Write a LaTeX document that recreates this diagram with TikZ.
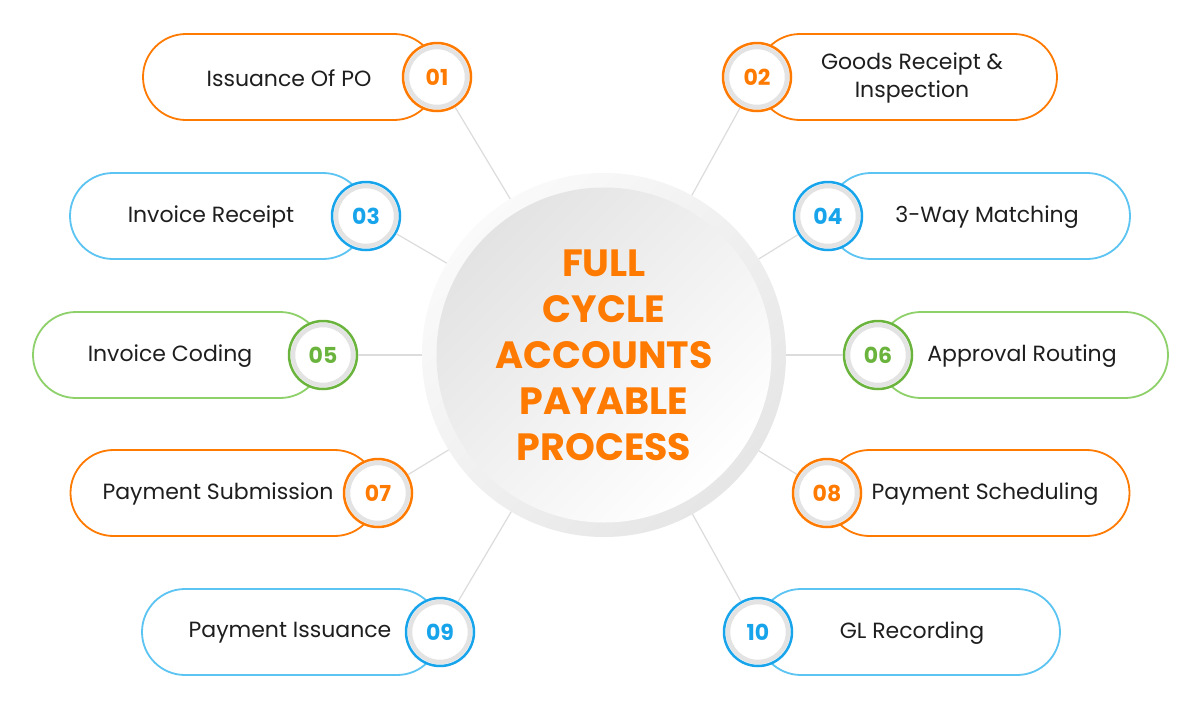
\documentclass[tikz,border=0pt]{standalone}
\usepackage{fontspec}
\setmainfont{Poppins}
\usepackage{xcolor}
\usepackage{tikz}

\definecolor{apOrange}{HTML}{FF7A00}
\definecolor{apBlue}{HTML}{17A4EA}
\definecolor{apBlueLt}{HTML}{5CC4F2}
\definecolor{apGreen}{HTML}{6AB43E}
\definecolor{apGreenLt}{HTML}{8ED16B}
\definecolor{apLine}{HTML}{DCDCDC}
\definecolor{apRing}{HTML}{E3E3E3}
\definecolor{apText}{HTML}{1E1E1E}

\tikzset{
  hub/.style={circle, minimum size=364pt, inner sep=0pt, top color=white!98!black, bottom color=apRing!90!white, shading angle=45},
  hubin/.style={circle, minimum size=335pt, inner sep=0pt, top color=apRing, bottom color=white, shading angle=45,
    text=apOrange, align=center, font=\bfseries\fontsize{38}{46}\selectfont},
  pill/.style={draw=#1, line width=1.8pt, fill=white, rounded corners=43pt, minimum height=86pt, inner sep=0pt},
  badge/.style={circle, draw=#1, line width=2.5pt, fill=white, minimum size=68pt, inner sep=0pt, text=#1,
    font=\bfseries\fontsize{22}{22}\selectfont,
    path picture={\draw[apRing, line width=4.5pt] (path picture bounding box.center) circle[radius=30pt];}},
  steplabel/.style={text=apText, font=\fontsize{22}{28}\selectfont, align=center},
  link/.style={draw=apLine, line width=1.2pt}
}

\begin{document}
\begin{tikzpicture}[x=1pt,y=-1pt]
  \fill[white] (0,0) rectangle (1200,710);
  \useasboundingbox (0,0) rectangle (1200,710);
  % centre
  \node[hub] (hub) at (604,355) {};
  \node[hubin] (title) at (604,355) {FULL\\CYCLE\\ACCOUNTS\\PAYABLE\\PROCESS};
  % pills
  \node[pill=apOrange, minimum width=294pt] (p1) at (290,77) {};
  \node[pill=apOrange, minimum width=300pt] (p2) at (907,77) {};
  \node[pill=apBlueLt, minimum width=296pt] (p3) at (218,216) {};
  \node[pill=apBlueLt, minimum width=302pt] (p4) at (979,216) {};
  \node[pill=apGreenLt, minimum width=290pt] (p5) at (178,355) {};
  \node[pill=apGreenLt, minimum width=290pt] (p6) at (1023,355) {};
  \node[pill=apOrange, minimum width=307pt] (p7) at (224,493) {};
  \node[pill=apOrange, minimum width=303pt] (p8) at (978,493) {};
  \node[pill=apBlueLt, minimum width=298pt] (p9) at (291,632) {};
  \node[pill=apBlueLt, minimum width=302pt] (p10) at (909,632) {};
  % badges
  \node[badge=apOrange] (n1) at (437,77) {01};
  \node[badge=apOrange] (n2) at (757,77) {02};
  \node[badge=apBlue] (n3) at (366,216) {03};
  \node[badge=apBlue] (n4) at (828,216) {04};
  \node[badge=apGreen] (n5) at (323,355) {05};
  \node[badge=apGreen] (n6) at (878,355) {06};
  \node[badge=apOrange] (n7) at (378,493) {07};
  \node[badge=apOrange] (n8) at (827,493) {08};
  \node[badge=apBlue] (n9) at (440,632) {09};
  \node[badge=apBlue] (n10) at (758,632) {10};
  % labels
  \node[steplabel] (l1) at (289,78) {Issuance Of PO};
  \node[steplabel] (l2) at (912,78) {Goods Receipt \&\\Inspection};
  \node[steplabel] (l3) at (211,217) {Invoice Receipt};
  \node[steplabel] (l4) at (987,217) {3-Way Matching};
  \node[steplabel] (l5) at (170,356) {Invoice Coding};
  \node[steplabel] (l6) at (1022,356) {Approval Routing};
  \node[steplabel] (l7) at (218,494) {Payment Submission};
  \node[steplabel] (l8) at (985,494) {Payment Scheduling};
  \node[steplabel] (l9) at (290,633) {Payment Issuance};
  \node[steplabel] (l10) at (912,633) {GL Recording};
  % links
  \foreach \k in {1,...,10} \draw[link] (hub) -- (n\k);
\end{tikzpicture}
\end{document}
